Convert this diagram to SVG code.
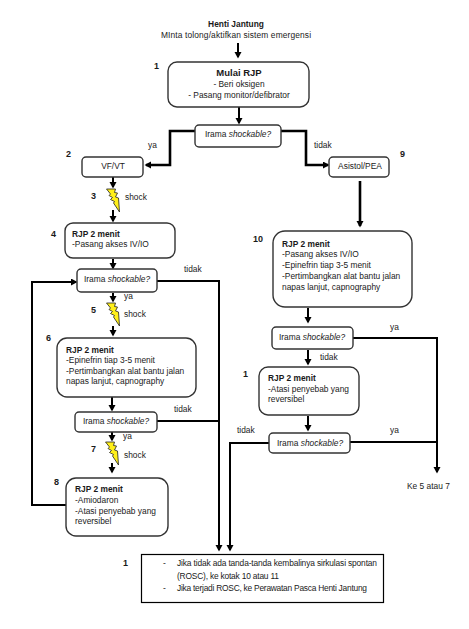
<svg xmlns="http://www.w3.org/2000/svg" width="469" height="629" viewBox="0 0 469 629">
<style>
text{font-family:"Liberation Sans",Arial,sans-serif;font-size:8.4px;fill:#1a1a1a}
.c{text-anchor:middle}
.b{font-weight:bold}
.i{font-style:italic}
.n{font-weight:bold;font-size:9px}
.box{fill:#fff;stroke:#333;stroke-width:1.4}
.l{fill:none;stroke:#000;stroke-width:2}
.t{stroke-width:2.6}
.a{marker-end:url(#ah)}
.bolt{fill:#ffef1a;stroke:#222;stroke-width:.8}
</style>
<defs>
<marker id="ah" markerUnits="userSpaceOnUse" markerWidth="8" markerHeight="8" refX="5" refY="3.500" orient="auto"><path d="M0 0L6.500 3.500L0 7z" fill="#000"/></marker>
<path id="bolt" d="M0 0H9L8 3.500L11 4L9 8L12 9L13 23L7 14L8 12.500L4 10.500L6 8.500L2.500 6.500L4 5z"/>
</defs>
<rect width="469" height="629" fill="#fff"/>
<g id="connectors">
<path class="l a" d="M238 43V57"/>
<path class="l a" d="M239 107V123"/>
<path class="l t a" d="M195 131H170V165H146"/>
<path class="l t a" d="M281 131H306V165H328"/>
<path class="l a" d="M113 177V187"/>
<path class="l t a" d="M360 181V226"/>
<path class="l a" d="M113 210V221"/>
<path class="l a" d="M113 259V268"/>
<path class="l a" d="M113 293V301"/>
<path class="l a" d="M113 326V335"/>
<path class="l a" d="M112 397V410"/>
<path class="l a" d="M112 432V440"/>
<path class="l a" d="M112 463V472"/>
<path class="l a" d="M157 281H219V550"/>
<path class="l" d="M157 421H219"/>
<path class="l a" d="M66 505H32V282H76"/>
<path class="l a" d="M308 308V322"/>
<path class="l a" d="M308 350V364"/>
<path class="l a" d="M308 416V430"/>
<path class="l a" d="M269 443H230V550"/>
<path class="l a" d="M353 338H437V472"/>
<path class="l" d="M350 442H437"/>
</g>
<g id="title">
<text class="c b" x="236" y="26.500">Henti Jantung</text>
<text class="c" x="236" y="38" textLength="150">MInta tolong/aktifkan sistem emergensi</text>
</g>
<g id="node1">
<rect class="box" x="168" y="62" width="141" height="45" rx="9"/>
<text class="c b" x="239" y="76" style="font-size:9.500px">Mulai RJP</text>
<text class="c" x="239" y="87">- Beri oksigen</text>
<text class="c" x="239" y="98">- Pasang monitor/defibrator</text>
<text class="n" x="154" y="69">1</text>
</g>
<g id="dec1">
<rect class="box" x="195" y="125" width="86" height="22" rx="4"/>
<text class="c" x="238" y="137">Irama <tspan class="i">shockable?</tspan></text>
<text x="148" y="148">ya</text>
<text x="314" y="148">tidak</text>
</g>
<g id="node2">
<rect class="box" x="82" y="157" width="61" height="20" rx="4"/>
<text class="c" x="113" y="169">VF/VT</text>
<text class="n" x="66" y="157">2</text>
</g>
<g id="node9">
<rect class="box" x="329" y="157" width="60" height="20" rx="4"/>
<text class="c" x="360" y="169">Asistol/PEA</text>
<text class="n" x="400" y="157">9</text>
</g>
<g id="node3">
<use href="#bolt" class="bolt" x="106.500" y="189"/>
<text class="n" x="91" y="199">3</text>
<text x="125" y="200">shock</text>
</g>
<g id="node4">
<rect class="box" x="65" y="223" width="110" height="35" rx="8"/>
<text class="b" x="72" y="237">RJP 2 menit</text>
<text x="72" y="247">-Pasang akses IV/IO</text>
<text class="n" x="51" y="237">4</text>
</g>
<g id="dec2">
<rect class="box" x="77" y="269" width="80" height="23" rx="4"/>
<text class="c" x="117" y="282">Irama <tspan class="i">shockable?</tspan></text>
<text x="184" y="272">tidak</text>
<text x="124" y="299">ya</text>
</g>
<g id="node5">
<use href="#bolt" class="bolt" x="106.500" y="303"/>
<text class="n" x="91" y="313">5</text>
<text x="124" y="317">shock</text>
</g>
<g id="node6">
<rect class="box" x="57" y="338" width="139" height="59" rx="10"/>
<text class="b" x="66" y="353">RJP 2 menit</text>
<text x="66" y="363">-Epinefrin tiap 3-5 menit</text>
<text x="66" y="374">-Pertimbangkan alat bantu jalan</text>
<text x="66" y="384">napas lanjut, capnography</text>
<text class="n" x="46" y="341">6</text>
</g>
<g id="dec3">
<rect class="box" x="75" y="412" width="82" height="20" rx="4"/>
<text class="c" x="116" y="424">Irama <tspan class="i">shockable?</tspan></text>
<text x="174" y="412">tidak</text>
<text x="123" y="439">ya</text>
</g>
<g id="node7">
<use href="#bolt" class="bolt" x="105.500" y="442"/>
<text class="n" x="91" y="452">7</text>
<text x="124" y="458">shock</text>
</g>
<g id="node8">
<rect class="box" x="66" y="478" width="102" height="58" rx="10"/>
<text class="b" x="75" y="492">RJP 2 menit</text>
<text x="75" y="503">-Amiodaron</text>
<text x="75" y="514">-Atasi penyebab yang</text>
<text x="75" y="524">reversibel</text>
<text class="n" x="54" y="485">8</text>
</g>
<g id="node10">
<rect class="box" x="273" y="231" width="139" height="76" rx="12"/>
<text class="b" x="282" y="247">RJP 2 menit</text>
<text x="282" y="257">-Pasang akses IV/IO</text>
<text x="282" y="268">-Epinefrin tiap 3-5 menit</text>
<text x="282" y="279">-Pertimbangkan alat bantu jalan</text>
<text x="282" y="290">napas lanjut, capnography</text>
<text class="n" x="253" y="242">10</text>
</g>
<g id="dec4">
<rect class="box" x="272" y="327" width="81" height="22" rx="4"/>
<text class="c" x="312" y="340">Irama <tspan class="i">shockable?</tspan></text>
<text x="390" y="330">ya</text>
<text x="320" y="360">tidak</text>
</g>
<g id="node11">
<rect class="box" x="259" y="367" width="100" height="48" rx="9"/>
<text class="b" x="268" y="381">RJP 2 menit</text>
<text x="268" y="392">-Atasi penyebab yang</text>
<text x="268" y="402">reversibel</text>
<text class="n" x="243" y="377">1</text>
</g>
<g id="dec5">
<rect class="box" x="269" y="433" width="81" height="20" rx="4"/>
<text class="c" x="310" y="446">Irama <tspan class="i">shockable?</tspan></text>
<text x="237" y="433">tidak</text>
<text x="390" y="433">ya</text>
</g>
<g id="ke">
<text x="407" y="489">Ke 5 atau 7</text>
</g>
<g id="node12">
<rect x="141.500" y="554.500" width="242" height="48" fill="#fff" stroke="#000" stroke-width="1.200"/>
<text x="163" y="566">-</text>
<text x="177" y="566" textLength="200">Jika tidak ada tanda-tanda kembalinya sirkulasi spontan</text>
<text x="177" y="579" textLength="102">(ROSC), ke kotak 10 atau 11</text>
<text x="163" y="591">-</text>
<text x="177" y="591" textLength="190">Jika terjadi ROSC, ke Perawatan Pasca Henti Jantung</text>
<text class="n" x="123" y="566">1</text>
</g>
</svg>
